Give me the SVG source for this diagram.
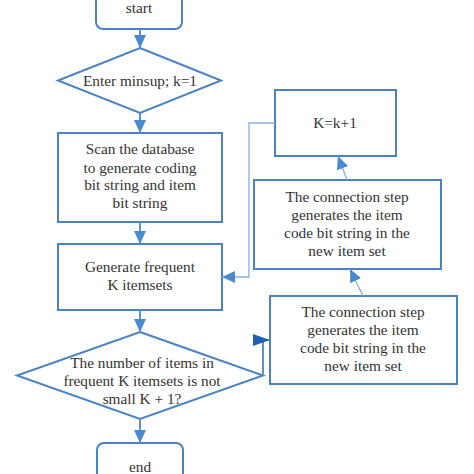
<svg xmlns="http://www.w3.org/2000/svg" width="474" height="474" viewBox="0 0 474 474">
<style>
.box{fill:#fff;stroke:#4a82c4;stroke-width:2}
.t{font-family:'Liberation Serif','Times New Roman','DejaVu Serif',serif;font-size:15.3px;fill:#333;text-anchor:middle}
.c{fill:none;stroke:#5b93d0;stroke-width:2}
.thin{fill:none;stroke:#86aedc;stroke-width:1.3}
</style>
<defs>
<marker id="ah" markerUnits="userSpaceOnUse" markerWidth="13" markerHeight="12" refX="13" refY="6" orient="auto">
<path d="M0,0 L13,6 L0,12 z" fill="#4a8ad0"/>
</marker>
<marker id="ahd" markerUnits="userSpaceOnUse" markerWidth="17" markerHeight="12" refX="17" refY="6" orient="auto">
<path d="M0,0 L17,6 L0,12 z" fill="#1f5eb0"/>
</marker>
</defs>
<rect width="474" height="474" fill="#fff"/>
<g id="start">
<rect class="box" x="96" y="-10" width="86" height="39" rx="7"/>
<text class="t" x="139" y="13">start</text>
</g>
<g id="enter">
<polygon class="box" points="140,48 221,80.5 140,113 58,80.5"/>
<text class="t" x="140" y="86">Enter minsup; k=1</text>
</g>
<g id="scan">
<rect class="box" x="58" y="133" width="164" height="89"/>
<text class="t" x="140" y="154">Scan the database</text>
<text class="t" x="140" y="173">to generate coding</text>
<text class="t" x="140" y="190">bit string and item</text>
<text class="t" x="140" y="208">bit string</text>
</g>
<g id="generate">
<rect class="box" x="58" y="244" width="164" height="66"/>
<text class="t" x="140" y="272">Generate frequent</text>
<text class="t" x="140" y="290">K itemsets</text>
</g>
<g id="decision">
<polygon class="box" points="140,332 263,375.5 140,419 17,375.5"/>
<text class="t" x="142" y="368">The number of items in</text>
<text class="t" x="142" y="386">frequent K itemsets is not</text>
<text class="t" x="142" y="404">small K + 1?</text>
</g>
<g id="end">
<rect class="box" x="97" y="443" width="86" height="45" rx="7"/>
<text class="t" x="140" y="472">end</text>
</g>
<g id="conn2">
<rect class="box" x="270" y="296" width="187" height="88"/>
<text class="t" x="363" y="317">The connection step</text>
<text class="t" x="363" y="335">generates the item</text>
<text class="t" x="363" y="353">code bit string in the</text>
<text class="t" x="363" y="371">new item set</text>
</g>
<g id="conn1">
<rect class="box" x="254" y="180" width="187" height="89"/>
<text class="t" x="347" y="202">The connection step</text>
<text class="t" x="347" y="220">generates the item</text>
<text class="t" x="347" y="238">code bit string in the</text>
<text class="t" x="347" y="256">new item set</text>
</g>
<g id="inc">
<rect class="box" x="275" y="90" width="121" height="66"/>
<text class="t" x="335" y="128">K=k+1</text>
</g>
<g id="connectors">
<path class="c" d="M140,29 V48" marker-end="url(#ah)"/>
<path class="c" d="M140,113 V133" marker-end="url(#ah)"/>
<path class="c" d="M140,222 V244" marker-end="url(#ah)"/>
<path class="c" d="M140,310 V332" marker-end="url(#ah)"/>
<path class="c" d="M140,419 V443" marker-end="url(#ah)"/>
<path class="c" d="M263,375.5 V340 H270" marker-end="url(#ahd)"/>
<path class="thin" d="M363,296 L350,269" marker-end="url(#ah)"/>
<path class="thin" d="M347,180 L338,156" marker-end="url(#ah)"/>
<path class="thin" d="M275,123 H249 V277 H222" marker-end="url(#ah)"/>
</g>
</svg>
